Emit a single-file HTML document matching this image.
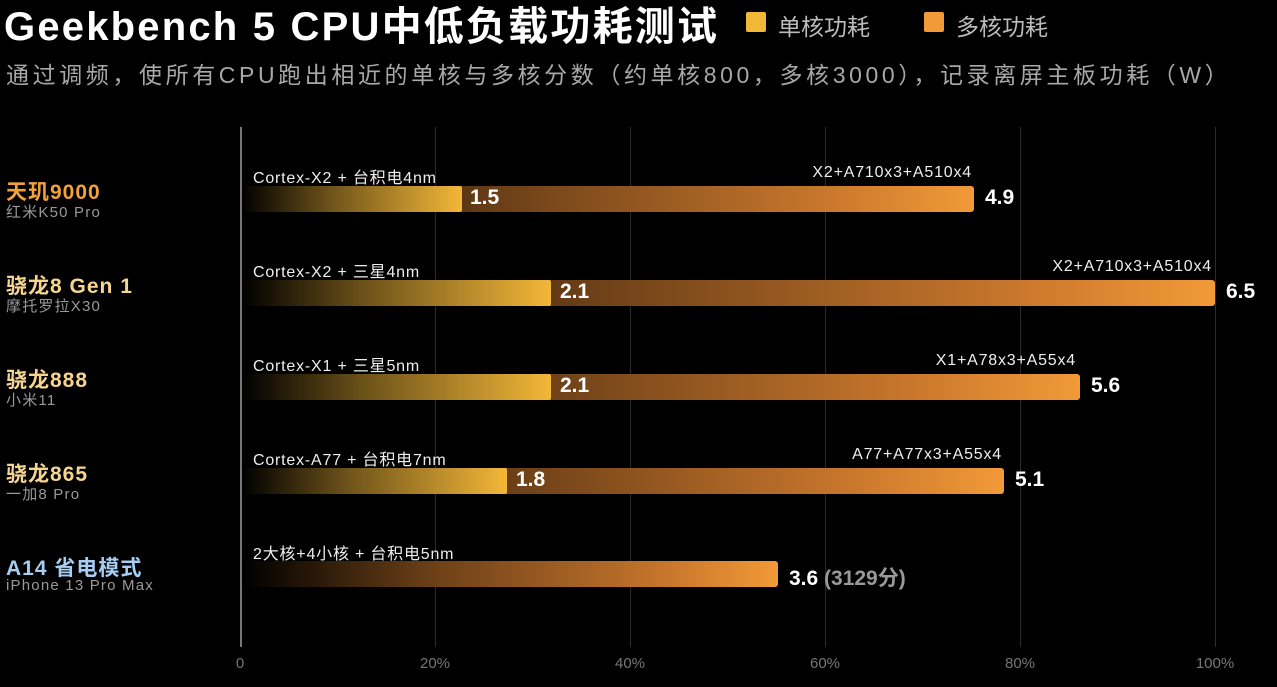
<!DOCTYPE html><html><head><meta charset="utf-8"><style>
body{margin:0;width:1277px;height:687px;background:#000;overflow:hidden;position:relative;font-family:"Liberation Sans","Noto Sans CJK SC",sans-serif;color:#fff}
.a{position:absolute;white-space:nowrap}
.g{position:absolute;top:127px;height:520px;width:1px;background:#2a2a2a}
.tk{position:absolute;top:655px;font-size:15px;color:#777;transform:translateX(-50%)}
.m{position:absolute;height:26px;border-radius:0 3px 3px 0;background:linear-gradient(90deg,#000 0%,#6b3f17 35%,#c9772c 80%,#f29a38 100%)}
.s{position:absolute;height:26px;border-radius:0 2px 2px 0;background:linear-gradient(90deg,#000 0%,#6e531a 40%,#f3b738 100%)}
.v{position:absolute;font-size:21px;font-weight:bold;color:#fff}
.c{position:absolute;font-size:16px;color:#eee;letter-spacing:0.8px;white-space:nowrap}
.r{transform:translateX(-100%)}
.n{position:absolute;left:6px;font-size:21px;font-weight:bold;letter-spacing:1px;white-space:nowrap}
.sub{position:absolute;left:6px;font-size:15px;color:#999;letter-spacing:1.2px;white-space:nowrap}
</style></head><body>
<div class="a" style="left:4px;top:-6px;font-size:40px;font-weight:bold;letter-spacing:2.2px">Geekbench 5 CPU中低负载功耗测试</div>
<div class="a" style="left:746px;top:12px;width:20px;height:20px;background:#f3b738;border-radius:2px"></div>
<div class="a" style="left:778px;top:8px;font-size:23px;color:#bbb">单核功耗</div>
<div class="a" style="left:924px;top:12px;width:20px;height:20px;background:#f29a38;border-radius:2px"></div>
<div class="a" style="left:956px;top:8px;font-size:23px;color:#bbb">多核功耗</div>
<div class="a" style="left:6px;top:56px;font-size:23px;color:#a8a8a8;letter-spacing:3.6px">通过调频，使所有CPU跑出相近的单核与多核分数（约单核800，多核3000），记录离屏主板功耗（W）</div>
<div class="g" style="left:435px"></div><div class="g" style="left:630px"></div><div class="g" style="left:825px"></div><div class="g" style="left:1020px"></div><div class="g" style="left:1215px"></div>
<div class="g" style="left:240px;width:2px;background:#777"></div>
<div class="tk" style="left:240px">0</div><div class="tk" style="left:435px">20%</div><div class="tk" style="left:630px">40%</div><div class="tk" style="left:825px">60%</div><div class="tk" style="left:1020px">80%</div><div class="tk" style="left:1215px">100%</div>

<div class="n" style="top:176px;color:#f2a23a">天玑9000</div><div class="sub" style="top:201px">红米K50 Pro</div>
<div class="c" style="left:253px;top:164px">Cortex-X2 + 台积电4nm</div>
<div class="c r" style="left:972px;top:164px">X2+A710x3+A510x4</div>
<div class="m" style="left:242px;top:186px;width:732px"></div><div class="s" style="left:242px;top:186px;width:220px"></div>
<div class="v" style="left:470px;top:186px">1.5</div><div class="v" style="left:985px;top:186px">4.9</div>

<div class="n" style="top:270px;color:#f6d491">骁龙8 Gen 1</div><div class="sub" style="top:295px">摩托罗拉X30</div>
<div class="c" style="left:253px;top:258px">Cortex-X2 + 三星4nm</div>
<div class="c r" style="left:1212px;top:258px">X2+A710x3+A510x4</div>
<div class="m" style="left:242px;top:280px;width:973px"></div><div class="s" style="left:242px;top:280px;width:309px"></div>
<div class="v" style="left:560px;top:280px">2.1</div><div class="v" style="left:1226px;top:280px">6.5</div>

<div class="n" style="top:364px;color:#f6d491">骁龙888</div><div class="sub" style="top:389px">小米11</div>
<div class="c" style="left:253px;top:352px">Cortex-X1 + 三星5nm</div>
<div class="c r" style="left:1076px;top:352px">X1+A78x3+A55x4</div>
<div class="m" style="left:242px;top:374px;width:838px"></div><div class="s" style="left:242px;top:374px;width:309px"></div>
<div class="v" style="left:560px;top:374px">2.1</div><div class="v" style="left:1091px;top:374px">5.6</div>

<div class="n" style="top:458px;color:#f6d491">骁龙865</div><div class="sub" style="top:483px">一加8 Pro</div>
<div class="c" style="left:253px;top:446px">Cortex-A77 + 台积电7nm</div>
<div class="c r" style="left:1002px;top:446px">A77+A77x3+A55x4</div>
<div class="m" style="left:242px;top:468px;width:762px"></div><div class="s" style="left:242px;top:468px;width:265px"></div>
<div class="v" style="left:516px;top:468px">1.8</div><div class="v" style="left:1015px;top:468px">5.1</div>

<div class="n" style="top:552px;color:#a6cdf2">A14 省电模式</div><div class="sub" style="top:577px">iPhone 13 Pro Max</div>
<div class="c" style="left:253px;top:540px">2大核+4小核 + 台积电5nm</div>
<div class="m" style="left:242px;top:561px;width:536px"></div>
<div class="v" style="left:789px;top:562px">3.6 <span style="color:#999">(3129分)</span></div>
</body></html>
